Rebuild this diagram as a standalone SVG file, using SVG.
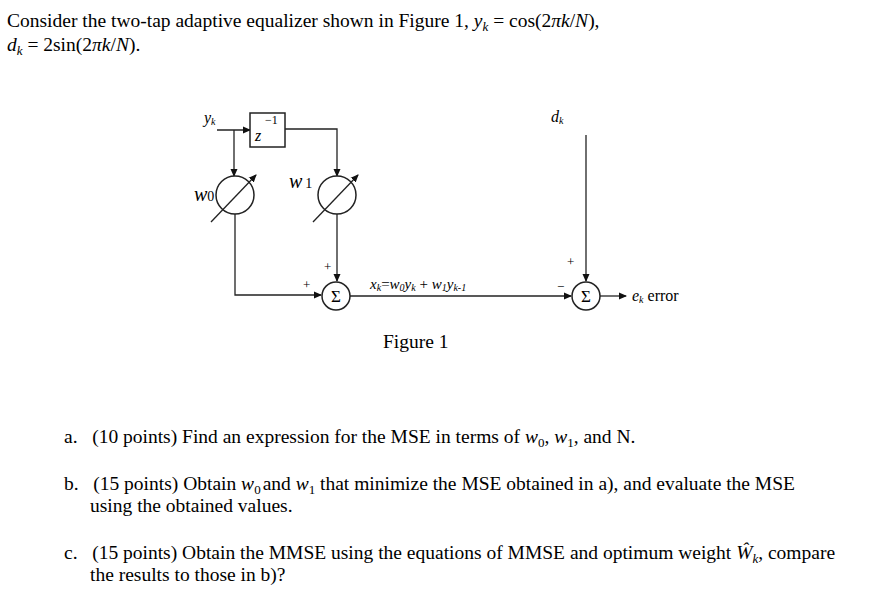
<svg xmlns="http://www.w3.org/2000/svg" width="870" height="607" viewBox="0 0 870 607">
<style>
.t{font-family:"Liberation Serif",serif;font-size:19.5px;fill:#000}
.m{font-family:"Liberation Serif",serif;font-style:italic;fill:#000}
.l{stroke:#222;stroke-width:1.3;fill:none}
.c{stroke:#222;stroke-width:1.5;fill:#fff}
</style>
<defs><marker id="a" markerWidth="8" markerHeight="8" refX="7" refY="4" orient="auto" markerUnits="userSpaceOnUse"><path d="M0,0.5L8,4L0,7.5z" fill="#111"/></marker></defs>
<rect width="870" height="607" fill="#fff"/>
<text class="t" x="7" y="27">Consider the two-tap adaptive equalizer shown in Figure 1, <tspan font-style="italic">y</tspan><tspan style="font-size:13px;font-style:italic" dy="4">k</tspan><tspan dy="-4"> = cos(2</tspan><tspan font-style="italic">πk</tspan>/<tspan font-style="italic">N</tspan>),</text>
<text class="t" x="7" y="51"><tspan font-style="italic">d</tspan><tspan style="font-size:13px;font-style:italic" dy="4">k</tspan><tspan dy="-4"> = 2sin(2</tspan><tspan font-style="italic">πk</tspan>/<tspan font-style="italic">N</tspan>).</text>
<g id="connectors">
<path class="l" d="M217,130H250" marker-end="url(#a)"/>
<path class="l" d="M234,130V176" marker-end="url(#a)"/>
<path class="l" d="M285,129H337V176" marker-end="url(#a)"/>
<path class="l" d="M235,214V295H321" marker-end="url(#a)"/>
<path class="l" d="M337,214V281" marker-end="url(#a)"/>
<path class="l" d="M350,296H571" marker-end="url(#a)"/>
<path class="l" d="M586,135V281" marker-end="url(#a)"/>
<path class="l" d="M600,296H626" marker-end="url(#a)"/>
</g>
<g id="delay"><rect class="c" x="250" y="113" width="35" height="34"/><text class="m" x="255" y="141" style="font-size:16px">z</text><text class="t" x="265" y="124" style="font-size:12px">−1</text></g>
<g id="w0"><circle class="c" cx="235" cy="195" r="19"/><path class="l" d="M211,222L256,175" marker-end="url(#a)"/><text class="m" x="194" y="201" style="font-size:20px">w<tspan style="font-size:14px;font-style:normal">0</tspan></text></g>
<g id="w1"><circle class="c" cx="337" cy="195" r="19"/><path class="l" d="M313,222L358,175" marker-end="url(#a)"/><text class="m" x="289" y="188" style="font-size:20px">w<tspan style="font-size:14px;font-style:normal" dx="3">1</tspan></text></g>
<text class="m" x="204" y="123" style="font-size:16px">y<tspan style="font-size:10px" dy="2">k</tspan></text>
<g id="sum1"><circle class="c" cx="336" cy="296" r="14"/><text class="t" x="336" y="302" text-anchor="middle" style="font-size:17px">Σ</text><text class="t" x="303" y="289" style="font-size:13px">+</text><text class="t" x="324" y="271" style="font-size:13px">+</text></g>
<g id="sum2"><circle class="c" cx="586" cy="296" r="14"/><text class="t" x="586" y="302" text-anchor="middle" style="font-size:17px">Σ</text><text class="t" x="557" y="291" style="font-size:13px">−</text><text class="t" x="567" y="266" style="font-size:13px">+</text></g>
<text class="m" x="370" y="289" style="font-size:15px">x<tspan style="font-size:10px" dy="2">k</tspan><tspan dy="-2" font-style="normal">=</tspan>w<tspan style="font-size:10px" dy="2">0</tspan><tspan dy="-2">y</tspan><tspan style="font-size:10px" dy="2">k</tspan><tspan dy="-2" font-style="normal"> + </tspan>w<tspan style="font-size:10px" dy="2">1</tspan><tspan dy="-2">y</tspan><tspan style="font-size:10px" dy="2">k-1</tspan></text>
<text class="m" x="551" y="122" style="font-size:16px">d<tspan style="font-size:10px" dy="2">k</tspan></text>
<text class="m" x="632" y="301" style="font-size:16px">e<tspan style="font-size:10px" dy="2">k</tspan><tspan dy="-2" font-style="normal"> error</tspan></text>
<text class="t" x="383" y="348">Figure 1</text>
<text class="t" x="64" y="443" xml:space="preserve">a.   (10 points) Find an expression for the MSE in terms of <tspan font-style="italic">w</tspan><tspan style="font-size:13px" dy="4">0</tspan><tspan dy="-4">, </tspan><tspan font-style="italic">w</tspan><tspan style="font-size:13px" dy="4">1</tspan><tspan dy="-4">, and N.</tspan></text>
<text class="t" x="64" y="490" xml:space="preserve">b.   (15 points) Obtain <tspan font-style="italic">w</tspan><tspan style="font-size:13px" dy="4">0</tspan><tspan dy="-4" dx="2">and </tspan><tspan font-style="italic">w</tspan><tspan style="font-size:13px" dy="4">1</tspan><tspan dy="-4"> that minimize the MSE obtained in a), and evaluate the MSE</tspan></text>
<text class="t" x="90" y="512">using the obtained values.</text>
<text class="t" x="64" y="559" xml:space="preserve">c.   (15 points) Obtain the MMSE using the equations of MMSE and optimum weight <tspan font-style="italic">Ŵ</tspan><tspan style="font-size:13px;font-style:italic" dy="4">k</tspan><tspan dy="-4">, compare</tspan></text>
<text class="t" x="90" y="581">the results to those in b)?</text>
</svg>
